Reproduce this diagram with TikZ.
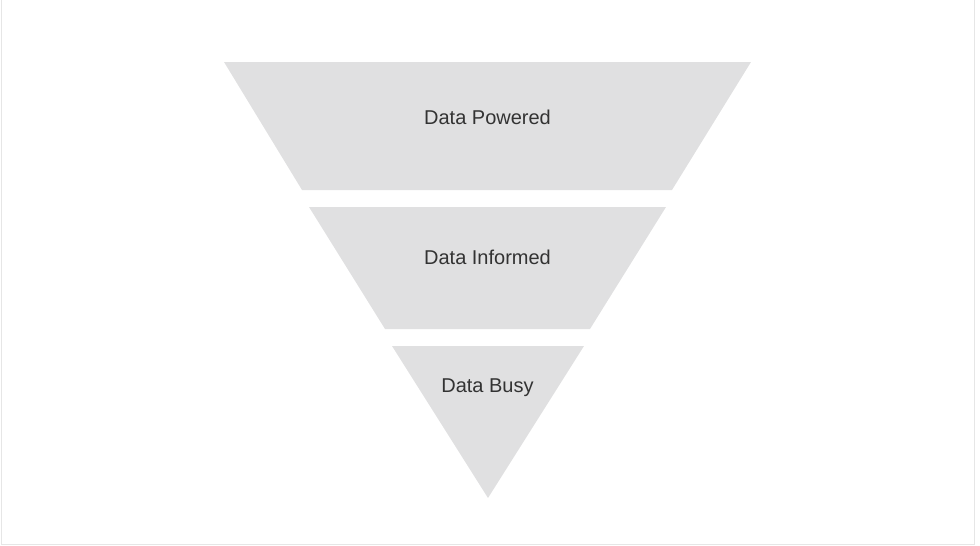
\documentclass[tikz,border=0pt]{standalone}
\usepackage{fontspec}
\setmainfont{Liberation Sans}
\definecolor{layergray}{HTML}{E0E0E1}
\definecolor{labelgray}{HTML}{333333}
\definecolor{framegray}{HTML}{E6E6E6}
\tikzset{
    layer/.style={fill=layergray},
    label text/.style={text=labelgray, anchor=base, font=\fontsize{20}{24}\selectfont}
}
\begin{document}
\begin{tikzpicture}[x=1pt, y=-1pt]
        \useasboundingbox (0, 0) rectangle (980, 546);
        
        % faint frame
        \draw[framegray, line width=1pt] (1.5, 0) -- (1.5, 544.5) -- (974, 544.5) -- (974, 0);
        
        \fill[layer] (224, 62) -- (751, 62) -- (672, 190) -- (302, 190) -- cycle;
        \node[label text] (powered) at (487.5, 124.5) {Data Powered};
        
        \fill[layer] (309, 207) -- (666, 207) -- (590, 329) -- (385, 329) -- cycle;
        \node[label text] (informed) at (487.5, 264.5) {Data Informed};
        
        \fill[layer] (392, 346) -- (584, 346) -- (488, 498) -- cycle;
        \node[label text] (busy) at (487.5, 392) {Data Busy};
    \end{tikzpicture}
\end{document}
